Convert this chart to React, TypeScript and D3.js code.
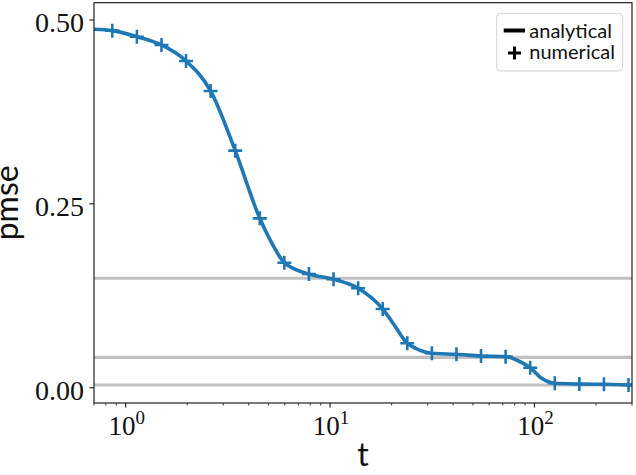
import * as d3 from "d3"

// numerical samples (markers)
const numT = [
  0.86, 1.135, 1.497, 1.974, 2.604, 3.435, 4.531, 5.975, 7.882, 10.4, 13.72,
  18.09, 23.86, 31.48, 41.52, 54.77, 72.24, 95.28, 125.7, 165.8, 218.7, 288.4,
]
const numPmse = [
  0.4855, 0.4773, 0.466, 0.4443, 0.4035, 0.3223, 0.2303, 0.17, 0.1546, 0.1474,
  0.1352, 0.107, 0.0604, 0.0468, 0.0454, 0.0431, 0.0422, 0.0272, 0.006, 0.005,
  0.0046, 0.0037,
]

// analytical curve
const anaT = [
  0.7, 0.86, 1.135, 1.497, 1.974, 2.604, 3.435, 4.531, 5.25, 5.975, 7.882, 10.4,
  13.72, 18.09, 20.6, 23.86, 26.27, 31.48, 41.52, 54.77, 72.24, 81.7, 95.28,
  108.5, 125.7, 165.8, 218.7, 300,
]
const anaPmse = [
  0.4874, 0.4855, 0.4773, 0.466, 0.4443, 0.4035, 0.3223, 0.2303, 0.194, 0.17,
  0.1546, 0.1474, 0.1352, 0.107, 0.0853, 0.0604, 0.0536, 0.0468, 0.0454, 0.0431,
  0.0422, 0.0377, 0.0272, 0.0128, 0.006, 0.005, 0.0046, 0.0036,
]

// gray reference levels
const levels = [0.1488, 0.0413, 0.0037]

const yTicks = [0, 0.25, 0.5]
const xTicks = [1, 10, 100]
const xTickExp = ["0", "1", "2"]

const legendLabels = ["analytical", "numerical"]

const W = 636
const H = 475
const left = 94
const top = 2.7
const right = 632
const bottom = 403

const blue = "#1f77b4"
const serif = "'Liberation Serif', 'Times New Roman', serif"
const sans = "Lato, 'Open Sans', sans-serif"

export default function App() {
  const x = d3.scaleLog().domain([0.7, 300]).range([left, right])
  const y = d3.scaleLinear().domain([-0.0208, 0.5235]).range([bottom, top])

  const line = d3
    .line<number>()
    .x((d, i) => x(anaT[i]))
    .y((d) => y(d))
    .curve(d3.curveMonotoneX)

  const minor: number[] = []
  for (const dec of [0.1, 1, 10, 100]) {
    for (let k = 2; k <= 9; k++) {
      const v = dec * k
      if (v >= 0.7 && v <= 300) minor.push(v)
    }
  }

  return (
    <div style={{ position: "absolute", left: 0, top: 0 }}>
      <svg width={W} height={H} style={{ display: "block", background: "#fff" }}>
        <defs>
          <clipPath id="plot">
            <rect x={left} y={top} width={right - left} height={bottom - top} />
          </clipPath>
        </defs>

        <g clipPath="url(#plot)">
          {levels.map((v) => (
            <line
              key={v}
              x1={left}
              x2={right}
              y1={y(v)}
              y2={y(v)}
              stroke="#c0c0c0"
              strokeWidth={3.2}
            />
          ))}
          <path
            d={line(anaPmse) || ""}
            fill="none"
            stroke={blue}
            strokeWidth={3.6}
            strokeLinejoin="round"
          />
          {numT.map((t, i) => {
            const cx = x(t)
            const cy = y(numPmse[i])
            return (
              <path
                key={t}
                d={`M${cx - 7},${cy}H${cx + 7}M${cx},${cy - 7}V${cy + 7}`}
                stroke={blue}
                strokeWidth={2.6}
              />
            )
          })}
        </g>

        {/* spines */}
        <rect
          x={left}
          y={top}
          width={right - left}
          height={bottom - top}
          fill="none"
          stroke="#222"
          strokeWidth={1.2}
        />

        {/* y axis */}
        {yTicks.map((v) => (
          <g key={v}>
            <line x1={left - 4.5} x2={left} y1={y(v)} y2={y(v)} stroke="#222" strokeWidth={1.2} />
            <text
              x={84}
              y={y(v) + 12.5}
              textAnchor="end"
              fontFamily={serif}
              fontSize={28}
              fill="#111"
            >
              {v.toFixed(2)}
            </text>
          </g>
        ))}

        {/* x axis */}
        {xTicks.map((v, i) => (
          <g key={v}>
            <line x1={x(v)} x2={x(v)} y1={bottom} y2={bottom + 4.5} stroke="#222" strokeWidth={1.2} />
            <text
              x={x(v) + 1}
              y={bottom + 32}
              textAnchor="middle"
              fontFamily={serif}
              fontSize={27}
              fill="#111"
            >
              10
              <tspan fontSize={19} dy={-11}>
                {xTickExp[i]}
              </tspan>
            </text>
          </g>
        ))}
        {minor.map((v) => (
          <line
            key={v}
            x1={x(v)}
            x2={x(v)}
            y1={bottom}
            y2={bottom + 2.5}
            stroke="#222"
            strokeWidth={0.9}
          />
        ))}

        {/* axis labels */}
        <text
          x={(left + right) / 2}
          y={466}
          textAnchor="middle"
          fontFamily={sans}
          fontSize={32}
          fill="#111"
        >
          t
        </text>
        <text
          transform={`translate(18,${(top + bottom) / 2}) rotate(-90)`}
          textAnchor="middle"
          fontFamily={sans}
          fontSize={32}
          fill="#111"
        >
          pmse
        </text>

        {/* legend */}
        <g>
          <rect
            x={496.7}
            y={13.3}
            width={126}
            height={57.7}
            rx={4}
            fill="#fff"
            fillOpacity={0.8}
            stroke="#d3d3d3"
            strokeWidth={1}
          />
          <line x1={503.7} x2={525} y1={30.5} y2={30.5} stroke="#000" strokeWidth={4} />
          <path d="M508,53H521M514.5,46.5V59.5" stroke="#000" strokeWidth={3} />
          {legendLabels.map((s, i) => (
            <text
              key={s}
              x={529.3}
              y={37.5 + i * 21.5}
              fontFamily={sans}
              fontSize={20}
              fill="#111"
            >
              {s}
            </text>
          ))}
        </g>
      </svg>
    </div>
  )
}
